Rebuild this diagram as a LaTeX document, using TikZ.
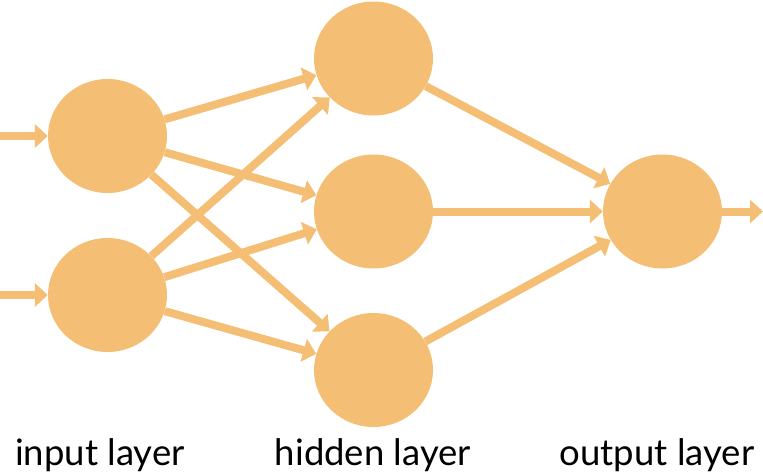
\documentclass[tikz,border=0pt]{standalone}
\usepackage{fontspec}
\setmainfont{Lato}
\usetikzlibrary{shapes.geometric,arrows.meta}
\definecolor{neuron}{HTML}{F4BF74}
\begin{document}
\begin{tikzpicture}[x=1pt,y=-1pt,
  neuronbox/.style={ellipse,fill=neuron,draw=none,minimum width=119pt,minimum height=114pt,inner sep=0pt},
  conn/.style={draw=neuron,line width=8pt,-{Triangle[width=23pt,length=13pt]}},
  lbl/.style={anchor=base,font=\fontsize{36.5}{42}\selectfont,inner sep=0pt}]
\useasboundingbox (0,0) rectangle (763,474);
\node[neuronbox] (i1) at (107.5,136) {};
\node[neuronbox] (i2) at (107.5,295) {};
\node[neuronbox] (h1) at (373.5,58.5) {};
\node[neuronbox] (h2) at (373.5,211.5) {};
\node[neuronbox] (h3) at (373.5,370) {};
\node[neuronbox] (o) at (662.5,211.5) {};
\coordinate (in1) at (0,136);
\coordinate (in2) at (0,295);
\coordinate (out) at (763,211.5);
\draw[conn] (in1) -- (i1);
\draw[conn] (in2) -- (i2);
\foreach \a in {i1,i2}{
  \foreach \b in {h1,h2,h3}{
    \draw[conn] (\a) -- (\b);
  }
}
\foreach \b in {h1,h2,h3}{
  \draw[conn] (\b) -- (o);
}
\draw[conn] (o) -- (out);
\node[lbl] (l1) at (100,465) {input layer};
\node[lbl] (l2) at (373,465) {hidden layer};
\node[lbl] (l3) at (657,465) {output layer};
\end{tikzpicture}
\end{document}
